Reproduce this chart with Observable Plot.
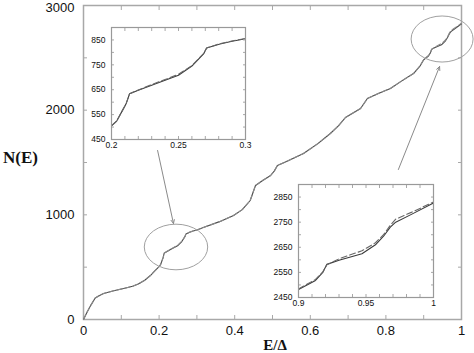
<!DOCTYPE html>
<html>
<head>
<meta charset="utf-8">
<script src="https://cdn.jsdelivr.net/npm/d3@7"></script>
<script src="https://cdn.jsdelivr.net/npm/@observablehq/plot@0.6"></script>
<style>
  html, body { margin: 0; padding: 0; background: white; }
  #wrap { position: relative; width: 474px; height: 353px; overflow: hidden; background: white; }
  #wrap > svg, #wrap > div.abs { position: absolute; }
  .lab { position: absolute; font-family: "Liberation Serif", "Times New Roman", serif; color: #111; line-height: 1; white-space: nowrap; }
</style>
</head>
<body>
<div id="wrap"></div>
<script>
// ---------- data ----------
const energy = [0, 0.01, 0.02, 0.031, 0.04, 0.053, 0.08, 0.106, 0.13, 0.145, 0.162, 0.177, 0.19,
  0.2, 0.204, 0.208, 0.211, 0.2135, 0.22, 0.23, 0.24, 0.25, 0.26, 0.2687, 0.271, 0.281, 0.29, 0.3,
  0.317, 0.36, 0.397, 0.42, 0.441, 0.455, 0.475, 0.495, 0.505, 0.513, 0.54, 0.582, 0.62, 0.653,
  0.675, 0.693, 0.733, 0.751, 0.78, 0.812, 0.84, 0.873, 0.89,
  0.9, 0.9126, 0.918, 0.921, 0.93, 0.947, 0.957, 0.963, 0.968, 0.972, 0.984, 1.0];
const nSolid = [0, 75, 140, 205, 225, 248, 275, 296, 318, 340, 375, 420, 470,
  505, 525, 565, 595, 634, 648, 668, 688, 708, 745, 794, 818, 834, 845, 855,
  879, 935, 994, 1050, 1137, 1280, 1330, 1376, 1420, 1471, 1515, 1586, 1680, 1777,
  1853, 1930, 2016, 2111, 2160, 2207, 2275, 2350, 2420,
  2482, 2518, 2550, 2582, 2598, 2624, 2660, 2694, 2730, 2750, 2782, 2826];
const nDashed = [0, 75, 140, 205, 225, 248, 275, 296, 318, 340, 375, 420, 470,
  505, 525, 565, 595, 634, 649, 671, 691, 712, 747, 795, 818, 835, 846, 856,
  879, 935, 994, 1050, 1137, 1280, 1330, 1376, 1420, 1471, 1515, 1586, 1680, 1777,
  1853, 1930, 2016, 2111, 2160, 2207, 2275, 2350, 2422,
  2484, 2522, 2552, 2580, 2604, 2636, 2668, 2700, 2738, 2762, 2790, 2830];

const mainXLabels = [0, 0.2, 0.4, 0.6, 0.8, 1];
const mainXMinor = [0.1, 0.2, 0.3, 0.4, 0.5, 0.6, 0.7, 0.8, 0.9];
const mainYLabels = [0, 1000, 2000];
const mainYTopLabel = [3000];
const mainYMinor = [500, 1000, 1500, 2000, 2500];

const inset1XLabels = [0.2, 0.25, 0.3];
const inset1XMinor = [0.21, 0.22, 0.23, 0.24, 0.25, 0.26, 0.27, 0.28, 0.29];
const inset1YLabels = [450, 550, 650, 750, 850];
const inset1YMinor = [500, 550, 600, 650, 700, 750, 800, 850];

const inset2XLabels = [0.9, 0.95, 1];
const inset2XMinor = [0.91, 0.92, 0.93, 0.94, 0.95, 0.96, 0.97, 0.98, 0.99];
const inset2YLabels = [2450, 2550, 2650, 2750, 2850];
const inset2YMinor = [2500, 2550, 2600, 2650, 2700, 2750, 2800, 2850];

// annotation ellipses (center + radii in data units) and arrows
const ellipseE = [0.246, 0.95];
const ellipseN = [688, 2675];
const ellipseRE = [0.0839, 0.082];
const ellipseRN = [218, 220];
const arrowFromE = [0.196, 0.833];
const arrowFromN = [1615, 1433];
const arrowToE = [0.238, 0.942];
const arrowToN = [917, 2417];

// ---------- tables ----------
const solid = energy.map((e, i) => ({E: e, N: nSolid[i]}));
const dashed = energy.map((e, i) => ({E: e, N: nDashed[i]}));
const ellipses = ellipseE.map((e, i) => ({E: e, N: ellipseN[i], rE: ellipseRE[i], rN: ellipseRN[i]}));
const arrows = arrowFromE.map((e, i) => ({x1: e, y1: arrowFromN[i], x2: arrowToE[i], y2: arrowToN[i]}));

const fmt = d => String(d);
const AXIS = "#a8a8a8";

function ellipseMark(data) {
  return (index, scales) => {
    const g = d3.create("svg:g");
    for (const d of data) {
      const cx = scales.x(d.E), cy = scales.y(d.N);
      const rx = Math.abs(scales.x(d.E + d.rE) - cx);
      const ry = Math.abs(scales.y(d.N + d.rN) - cy);
      g.append("ellipse").attr("cx", cx).attr("cy", cy).attr("rx", rx).attr("ry", ry)
        .attr("fill", "none").attr("stroke", "#a0a0a0").attr("stroke-width", 1);
    }
    return g.node();
  };
}

function tickAxes(xMinor, yMinor, size) {
  const o = {tickSize: -size, tickFormat: () => "", label: null, stroke: AXIS};
  return [
    Plot.axisX(xMinor, {...o, anchor: "bottom"}),
    Plot.axisX(xMinor, {...o, anchor: "top"}),
    Plot.axisY(yMinor, {...o, anchor: "left"}),
    Plot.axisY(yMinor, {...o, anchor: "right"})
  ];
}

const wrap = document.getElementById("wrap");

// ---------- main chart ----------
const main = Plot.plot({
  width: 474, height: 353,
  marginLeft: 83, marginRight: 13, marginTop: 5, marginBottom: 34,
  style: {fontFamily: "'Liberation Sans', Arial, sans-serif", fontSize: "13px", background: "transparent", color: "#111"},
  x: {domain: [0, 1]},
  y: {domain: [0, 3000]},
  marks: [
    ...tickAxes(mainXMinor, mainYMinor, 4),
    Plot.axisX(mainXLabels, {anchor: "bottom", tickSize: 0, tickPadding: 6, tickFormat: fmt, label: null}),
    Plot.axisY(mainYLabels, {anchor: "left", tickSize: 0, tickPadding: 9, tickFormat: fmt, label: null}),
    Plot.axisY(mainYTopLabel, {anchor: "left", tickSize: 0, tickPadding: 9, tickFormat: fmt, label: null, dy: 2}),
    Plot.frame({stroke: AXIS, strokeWidth: 1.5}),
    Plot.line(solid, {x: "E", y: "N", stroke: "#4a4a4a", strokeWidth: 1.1}),
    Plot.line(dashed, {x: "E", y: "N", stroke: "#8a8a8a", strokeWidth: 1.1, strokeDasharray: "5,3"}),
    ellipseMark(ellipses),
    Plot.arrow(arrows, {x1: "x1", y1: "y1", x2: "x2", y2: "y2", stroke: "#8a8a8a", strokeWidth: 1, headLength: 6, headAngle: 50, bend: 0})
  ]
});
main.style.left = "0px"; main.style.top = "0px";
wrap.appendChild(main);

// ---------- insets ----------
function inset(lo, hi, ylo, yhi, xLab, xMin, yLab, yMin, left, top, w, h) {
  const mL = 32, mR = 10, mT = 3, mB = 14;
  const s = solid.filter(d => d.E >= lo && d.E <= hi);
  const dsh = dashed.filter(d => d.E >= lo && d.E <= hi);
  const p = Plot.plot({
    width: w + mL + mR, height: h + mT + mB,
    marginLeft: mL, marginRight: mR, marginTop: mT, marginBottom: mB,
    style: {fontFamily: "'Liberation Sans', Arial, sans-serif", fontSize: "8.5px", background: "transparent", color: "#111"},
    x: {domain: [lo, hi]},
    y: {domain: [ylo, yhi]},
    marks: [
      Plot.frame({fill: "white"}),
      Plot.line(s, {x: "E", y: "N", stroke: "#3a3a3a", strokeWidth: 1.1}),
      Plot.line(dsh, {x: "E", y: "N", stroke: "#666", strokeWidth: 1.1, strokeDasharray: "6,3"}),
      ...tickAxes(xMin, yMin, 3),
      Plot.axisX(xLab, {anchor: "bottom", tickSize: 0, tickPadding: 2, tickFormat: fmt, label: null}),
      Plot.axisY(yLab, {anchor: "left", tickSize: 0, tickPadding: 6, tickFormat: fmt, label: null}),
      Plot.frame({stroke: "#999", strokeWidth: 1.2})
    ]
  });
  p.style.left = (left - mL) + "px";
  p.style.top = (top - mT) + "px";
  wrap.appendChild(p);
}
inset(0.2, 0.3, 450, 900, inset1XLabels, inset1XMinor, inset1YLabels, inset1YMinor, 111, 27, 134, 112);
inset(0.9, 1.0, 2450, 2900, inset2XLabels, inset2XMinor, inset2YLabels, inset2YMinor, 298, 184, 135, 113);

// ---------- axis titles ----------
const yl = document.createElement("div");
yl.className = "lab"; yl.textContent = "N(E)";
yl.style.left = "3px"; yl.style.top = "149px"; yl.style.fontSize = "17px"; yl.style.fontWeight = "bold";
wrap.appendChild(yl);
const xl = document.createElement("div");
xl.className = "lab"; xl.textContent = "E/Δ";
xl.style.left = "275px"; xl.style.top = "338px"; xl.style.fontSize = "15px"; xl.style.fontWeight = "bold";
xl.style.transform = "translateX(-50%)";
wrap.appendChild(xl);
</script>
</body>
</html>
